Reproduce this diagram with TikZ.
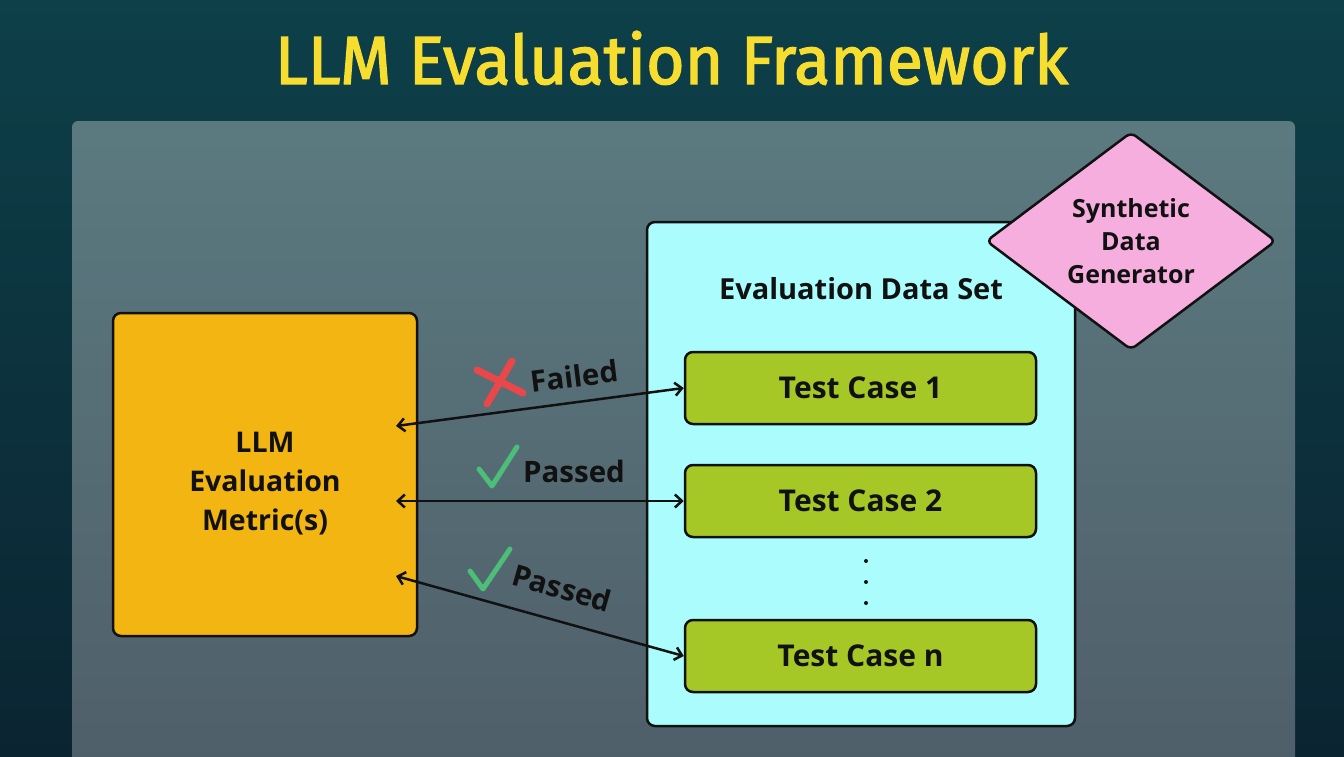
\documentclass[tikz,border=0pt]{standalone}
\usepackage{graphicx}
\usepackage{fontspec}
\setmainfont{Open Sans}
\newfontfamily\titlefont{Fira Sans}[FakeBold=2]
\usetikzlibrary{arrows.meta,shapes.geometric,shadows}

\definecolor{bgtop}{HTML}{0D4049}
\definecolor{bgbot}{HTML}{0B2432}
\definecolor{paneltop}{HTML}{5B7A80}
\definecolor{panelbot}{HTML}{4F5E69}
\definecolor{metricyellow}{HTML}{F3B511}
\definecolor{datacyan}{HTML}{AAFDFC}
\definecolor{casegreen}{HTML}{A6C826}
\definecolor{genpink}{HTML}{F5AEDD}
\definecolor{titleyellow}{HTML}{F6DD30}
\definecolor{failred}{HTML}{E9474A}
\definecolor{passgreen}{HTML}{4DBE78}
\definecolor{ink}{HTML}{111111}

\begin{document}
\begin{tikzpicture}[x=1pt,y=-1pt,
  box/.style={draw=ink, line width=2.5pt, rounded corners=8pt, inner sep=0pt},
  casebox/.style={box, fill=casegreen, minimum width=351pt, minimum height=72pt,
    font=\fontsize{30}{36}\selectfont\bfseries, text=ink},
  boxtext/.style={inner sep=0pt, text=ink, align=center},
  link/.style={draw=ink, line width=2.5pt,
    {Straight Barb[length=7pt,width=13pt]}-{Straight Barb[length=7pt,width=13pt]}},
  lbl/.style={font=\fontsize{29.5}{36}\selectfont\bfseries, text=ink, inner sep=0pt},
  tick/.style={draw=passgreen, line width=5pt, line cap=round, line join=round},
  cross/.style={draw=failred, line width=7pt, line cap=round},
  titletext/.style={inner sep=0pt, anchor=base},
]
\useasboundingbox (0,0) rectangle (1344,756);
% background
\shade[top color=bgtop, bottom color=bgbot] (0,0) rectangle (1344,756);
\shade[top color=paneltop, bottom color=panelbot, rounded corners=6pt] (72,121) rectangle (1295,780);

% title
\node[titletext, text=titleyellow] (title) at (671.5,84)
  {\resizebox{793pt}{53pt}{\titlefont LLM Evaluation Framework}};

% metric box
\node[box, fill=metricyellow, minimum width=304pt, minimum height=323pt] (metric) at (265,474.5) {};
\node[boxtext, font=\fontsize{28.5}{39}\selectfont\bfseries] (metrictext) at (265,484)
  {LLM\\Evaluation\\Metric(s)};

% dataset box
\node[box, fill=datacyan, minimum width=428pt, minimum height=504pt] (dataset) at (861,474) {};
\node[boxtext, font=\fontsize{29}{36}\selectfont\bfseries] (datasettext) at (861,289) {Evaluation Data Set};

\node[casebox] (tc1) at (860.5,388) {Test Case 1};
\node[casebox] (tc2) at (860.5,501) {Test Case 2};
\node[casebox] (tcn) at (860.5,656) {Test Case n};

\fill[ink] (866,561) circle (2);
\fill[ink] (866,582) circle (2);
\fill[ink] (866,603) circle (2);

% generator
\node[diamond, shape aspect=1.33, draw=ink, line width=2.5pt, fill=genpink,
  minimum width=290pt, minimum height=218pt, inner sep=0pt, rounded corners=6pt,
  align=center, text=ink, font=\fontsize{25}{33}\selectfont\bfseries] (gen) at (1131,241)
  {Synthetic\\Data\\Generator};

% connectors
\coordinate (m1) at (396,426);
\coordinate (m2) at (396,501);
\coordinate (m3) at (396,576);
\draw[link] (m1) -- (tc1.west);
\draw[link] (m2) -- (tc2.west);
\draw[link] (m3) -- (tcn.west);

% labels
\node[lbl, rotate=7] (failed) at (574,376) {Failed};
\node[lbl] (pass2) at (574,471) {Passed};
\node[lbl, rotate=-16] (pass3) at (562,588) {Passed};

\draw[cross] (477,370) -- (523,393);
\draw[cross] (512,361) -- (487,404);
\draw[tick] (479,469) -- (492,486) -- (517,447);
\draw[tick] (470,571) -- (483,589) -- (510,549);
\end{tikzpicture}
\end{document}
